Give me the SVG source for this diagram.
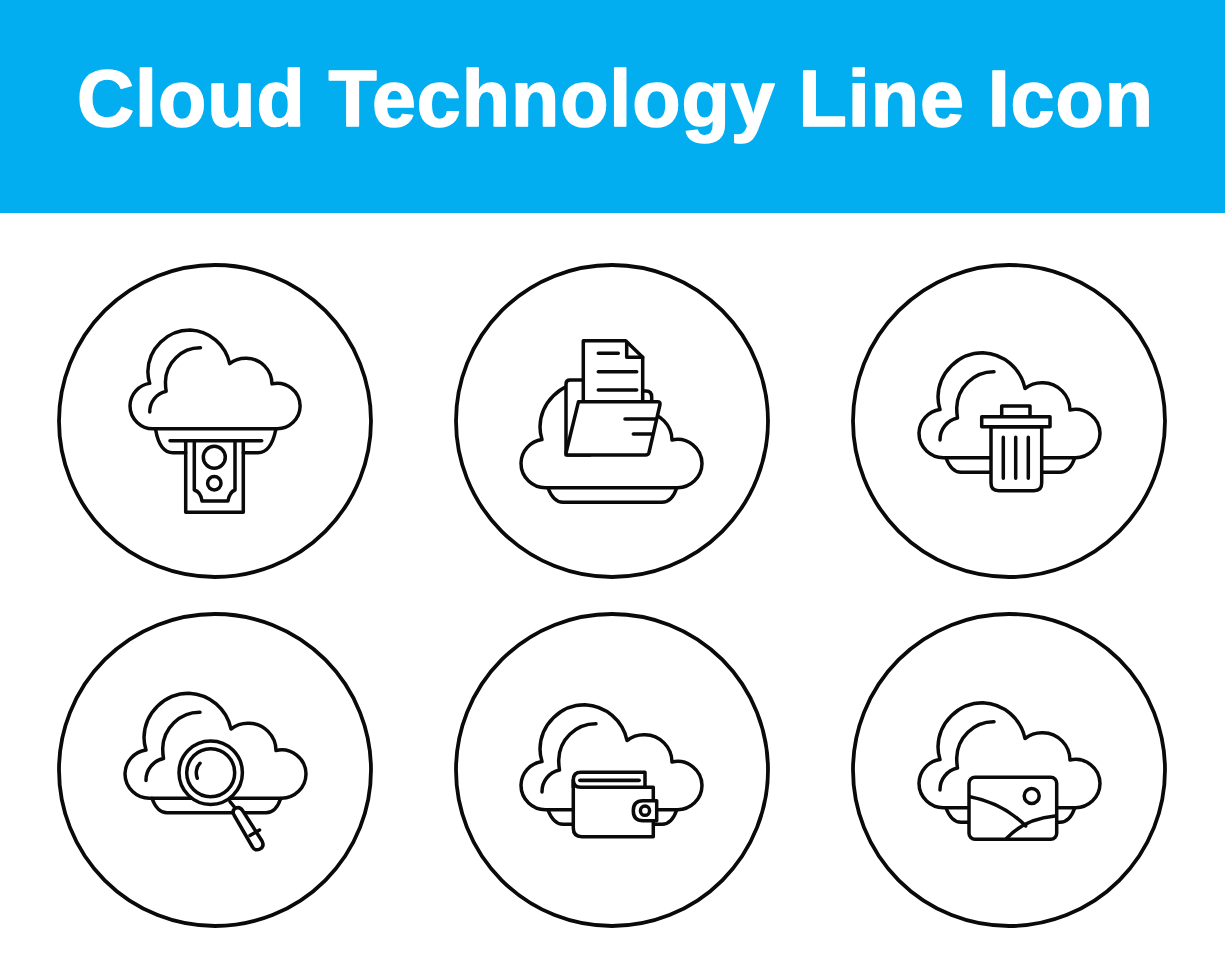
<svg xmlns="http://www.w3.org/2000/svg" width="1225" height="980" viewBox="0 0 1225 980">
<style>
.ln{fill:none;stroke:#0a0a0a;stroke-width:3.5;stroke-linecap:round;stroke-linejoin:round}
.wf{fill:#fff}
.ring{fill:#fff;stroke:#0a0a0a;stroke-width:3.8}
.title{font-family:"Liberation Sans",Arial,sans-serif;font-weight:700;font-size:79px;fill:#fff;stroke:#fff;stroke-width:1.6px;stroke-linejoin:round}
</style>
<defs>
<path id="cloud" d="M945 457.7H1075A24.5 24.5 0 0 0 1100 433.5A24.5 24.5 0 0 0 1070 410A27.5 27.5 0 0 0 1043 382.7A27.5 27.5 0 0 0 1025 388.5A45 45 0 0 0 983 352.7A45 45 0 0 0 938 397Q938 403 940 409.5A24.5 24.5 0 0 0 919 433A24.5 24.5 0 0 0 945 457.7Z"/>
<path id="shine" d="M994 371.7A37 37 0 0 0 956.7 408Q956.7 413 957.5 418A22 22 0 0 0 940 440"/>
<path id="tray" d="M946 458C949 466 953 472.3 961 472.3H1060C1068 472.3 1072 466 1074.7 458"/>
</defs>
<rect width="1225" height="980" fill="#fff"/>
<rect id="banner" width="1225" height="213" fill="#03aef0"/>
<text id="title" class="title" x="77" y="126.3" textLength="1076" lengthAdjust="spacing">Cloud Technology Line Icon</text>

<g id="icon-money">
<circle class="ring" cx="215" cy="421" r="156"/>
<g class="ln">
<g transform="translate(130 330) scale(.94) translate(-919 -352.7)" stroke-width="3.7">
<use href="#cloud"/><use href="#shine"/>
</g>
<path d="M155.7 430C158 443 163 452.7 173 452.7H185.7M275.7 430C273 443 268 452.7 258 452.7H243.3"/>
<path d="M170 440.7H261.7"/>
<path d="M185.7 440.7V512.3H243.3V440.7"/>
<path d="M194.3 441.7V490C198 491 201 494 202 501H228C229 495 232 491 235 490V441.7"/>
<circle cx="214.3" cy="457.3" r="11"/>
<circle cx="214.3" cy="483.3" r="6.7"/>
</g>
</g>

<g id="icon-folder">
<circle class="ring" cx="612" cy="421" r="156"/>
<g class="ln">
<g transform="translate(-398 30)"><use href="#cloud"/><use href="#tray"/></g>
<path class="wf" d="M566 455V384Q566 380 570 380H590V455Z"/>
<path class="wf" d="M636 391H646Q651.7 391 651.7 397V410H636Z"/>
<path class="wf" d="M583.3 410V340.7H625.7L642.7 357.3V410Z"/>
<path d="M626.7 343V357.3H642.7"/>
<path d="M598.3 353.3H618.3M598.3 371.7H636.7M598.3 390H636.7"/>
<path class="wf" d="M578.5 401.7H657.5Q660.5 401.7 660 404.5L649 452.5Q648.3 455 645.5 455H569Q565.5 455 566.2 452Z"/>
<path d="M625 419H656M633.3 434H651.7"/>
</g>
</g>

<g id="icon-trash">
<circle class="ring" cx="1009" cy="421" r="156"/>
<g class="ln">
<use href="#cloud"/><use href="#shine"/><use href="#tray"/>
<path class="wf" d="M1001.7 416.7V406H1030V416.7"/>
<path class="wf" d="M991 426.7V483Q991 490.7 998.7 490.7H1034Q1041.7 490.7 1041.7 483V426.7Z"/>
<rect class="wf" x="981.7" y="416.7" width="68.3" height="10"/>
<path d="M1003.3 437.3V478.3M1015.7 437.3V478.3M1028.3 437.3V478.3"/>
</g>
</g>

<g id="icon-search">
<circle class="ring" cx="215" cy="770" r="156"/>
<g class="ln">
<g transform="translate(-794 340.5)"><use href="#cloud"/><use href="#shine"/><use href="#tray"/></g>
<path d="M230 801.7L236 809"/>
<path class="wf" d="M234 815C232 811.5 233.5 809.5 235.5 808.3C238 807 240.5 807.5 242.5 810.5L262 841C264 845 263 847.5 260 849C257 850.5 254 850 252.5 847Z"/>
<path d="M250 835.5L259.5 830"/>
<circle class="wf" cx="210.7" cy="772.7" r="31.7"/>
<circle cx="210.7" cy="772.7" r="24"/>
<path d="M200 763.3C196 767 195.5 774 197.3 778.3"/>
</g>
</g>

<g id="icon-wallet">
<circle class="ring" cx="612" cy="770" r="156"/>
<g class="ln">
<g transform="translate(-398 352)"><use href="#cloud"/><use href="#shine"/><use href="#tray"/></g>
<path class="wf" d="M573.3 787V780Q573.3 772.3 581 772.3H645V790H580Z"/>
<path d="M580 780.3H639" stroke-width="3.8"/>
<path class="wf" d="M573.3 780C573.3 785 576 787.3 581 787.3H653.3V836.7H582Q573.3 836.7 573.3 828Z"/>
<path class="wf" d="M656.7 800.7H643Q633.3 800.7 633.3 810.7Q633.3 820.7 643 820.7H656.7Z"/>
<circle cx="645" cy="810.7" r="4.6"/>
</g>
</g>

<g id="icon-image">
<circle class="ring" cx="1009" cy="770" r="156"/>
<g class="ln">
<g transform="translate(0 350)"><use href="#cloud"/><use href="#shine"/><use href="#tray"/></g>
<rect class="wf" x="969" y="777.3" width="87.7" height="62" rx="6"/>
<circle cx="1031.7" cy="796" r="7.5"/>
<path d="M970 796.7C992 801 1012 812 1025.7 826"/>
<path d="M1006.7 838.3C1018 826 1035 818 1055 816"/>
</g>
</g>
</svg>
